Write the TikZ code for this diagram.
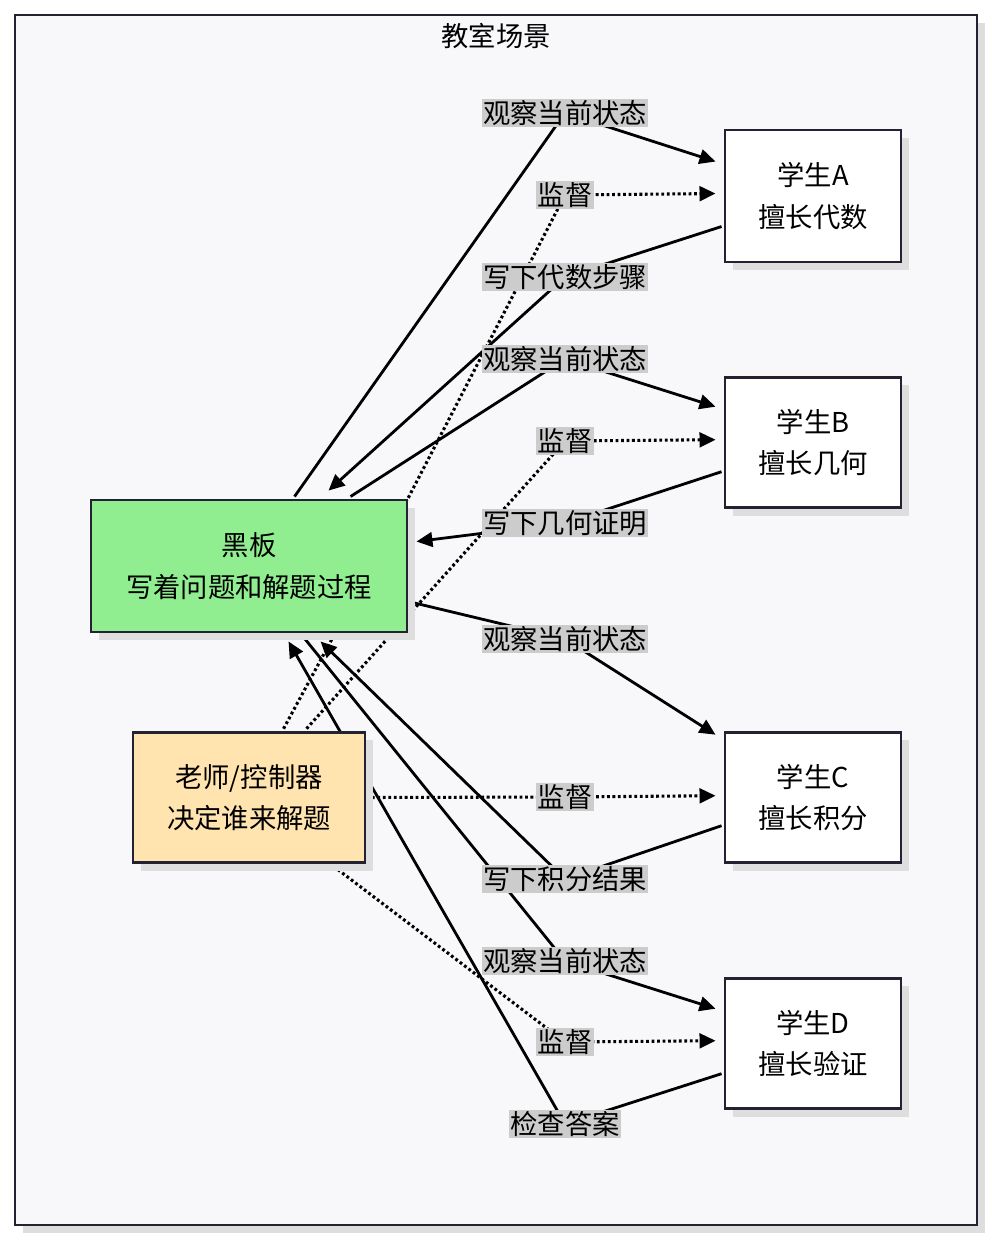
\documentclass[tikz,border=0pt]{standalone}
\usepackage{fontspec}
\setmainfont{Noto Sans CJK SC}
\usetikzlibrary{arrows.meta,calc,backgrounds}
\definecolor{framebg}{HTML}{F8F8FB}
\definecolor{ink}{HTML}{222233}
\definecolor{lblbg}{HTML}{CCCCCC}
\definecolor{boardgreen}{HTML}{90EE90}
\definecolor{teachfill}{HTML}{FFE4B0}
\tikzset{
  box/.style={draw=ink, line width=2.2pt, minimum width=132pt, minimum height=99pt,
    align=center, font=\fontsize{20.5}{31}\selectfont, inner sep=0pt},
  shadow/.style={fill=black!13, draw=none},
  lbl/.style={fill=lblbg, inner sep=1pt, font=\fontsize{20.5}{23}\selectfont},
  edge/.style={draw=black, line width=2.1pt, -{Triangle[length=12pt,width=11pt]}},
  dotedge/.style={edge, dotted, line width=2.3pt},
}
\begin{document}
\begin{tikzpicture}[x=0.75pt, y=-0.75pt]
\useasboundingbox (0,0) rectangle (992,1240);
\node[font=\fontsize{20.5}{23}\selectfont] (title) at (496,36) {教室场景};

\foreach \x/\y/\w/\h in {91/500/316/132, 133/732/232/131, 725/130/176/132, 725/377/176/131, 725/732/176/131, 725/978/176/131}
  \fill[shadow] (\x+8,\y+8) rectangle ++(\w,\h);

\node[box, fill=boardgreen, minimum width=237pt] (bb) at (249,566) {黑板\\写着问题和解题过程};
\node[box, fill=teachfill, minimum width=174pt, minimum height=98pt] (tc) at (249,797.5) {老师/控制器\\决定谁来解题};
\node[box, fill=white] (sa) at (813,196) {学生A\\擅长代数};
\node[box, fill=white, minimum height=98pt] (sb) at (813,442.5) {学生B\\擅长几何};
\node[box, fill=white, minimum height=98pt] (sc) at (813,797.5) {学生C\\擅长积分};
\node[box, fill=white, minimum height=98pt] (sd) at (813,1043.5) {学生D\\擅长验证};

% labels
\node[lbl] (l1) at (565,113) {观察当前状态};
\node[lbl] (l2) at (565,195) {监督};
\node[lbl] (l3) at (565,277) {写下代数步骤};
\node[lbl] (l4) at (565,359) {观察当前状态};
\node[lbl] (l5) at (565,441) {监督};
\node[lbl] (l6) at (565,523) {写下几何证明};
\node[lbl] (l7) at (565,639) {观察当前状态};
\node[lbl] (l8) at (565,797) {监督};
\node[lbl] (l9) at (565,879) {写下积分结果};
\node[lbl] (l10) at (565,961) {观察当前状态};
\node[lbl] (l11) at (565,1042) {监督};
\node[lbl] (l12) at (565,1124) {检查答案};

\begin{pgfonlayer}{background}
\fill[shadow] (23,23) rectangle (985,1233);
\fill[framebg] (15,15) rectangle (977,1225);
\draw[ink, line width=2.2pt] (15,15) rectangle (977,1225);
% student A
\draw[edge] ($(bb.north west)+(205,-2)$) -- (l1.center) -- ($(sa.north west)+(-8,33)$);
\draw[dotedge] ($(tc.north west)+(152,-2)$) -- ($(bb.north east)+(1,-3)$) -- (l2.center) -- ($(sa.north west)+(-8,65)$);
\draw[edge] ($(sa.north west)+(-2,98)$) -- (l3.center) -- ($(bb.north west)+(239,-8)$);
% student B
\draw[edge] ($(bb.north west)+(261,-2)$) -- (l4.center) -- ($(sb.north west)+(-8,31)$);
\draw[dotedge] ($(tc.north west)+(175,-2)$) -- (l5.center) -- ($(sb.north west)+(-8,64)$);
\draw[edge] ($(sb.north west)+(-2,96)$) -- (l6.center) -- ($(bb.north east)+(8,43)$);
% student C
\draw[edge] ($(bb.north east)+(0,103)$) -- (l7.center) -- ($(sc.north west)+(-8,4)$);
\draw[dotedge] (tc.east) -- (l8.center) -- ($(sc.north west)+(-8,65)$);
\draw[edge] ($(sc.north west)+(-2,95)$) -- (l9.center) -- ($(bb.south west)+(231,8)$);
% student D
\draw[edge] ($(bb.south west)+(211,0)$) -- (l10.center) -- ($(sd.north west)+(-8,32)$);
\draw[dotedge] ($(tc.south west)+(202,2)$) -- (l11.center) -- ($(sd.north west)+(-8,64)$);
\draw[edge] ($(sd.north west)+(-2,97)$) -- (l12.center) -- ($(bb.south west)+(199,8)$);
\end{pgfonlayer}
\end{tikzpicture}
\end{document}
